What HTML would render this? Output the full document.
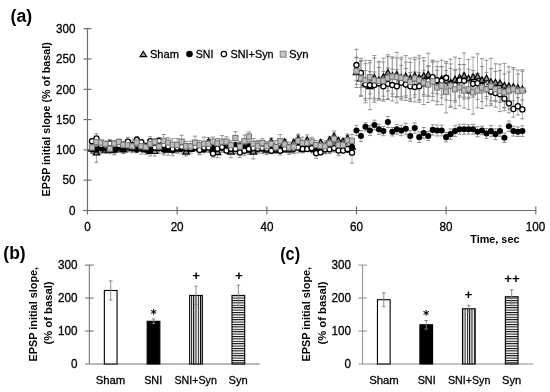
<!DOCTYPE html><html><head><meta charset="utf-8"><title>EPSP figure</title><style>html,body{margin:0;padding:0;background:#fff;}svg{display:block;}</style></head><body><svg width="550" height="392" viewBox="0 0 550 392" font-family="Liberation Sans, Arial, sans-serif">
<rect width="550" height="392" fill="#fff"/>
<defs><pattern id="pv" patternUnits="userSpaceOnUse" width="2.3" height="4"><rect width="2.3" height="4" fill="#fff"/><rect width="1" height="4" fill="#000"/></pattern><pattern id="ph" patternUnits="userSpaceOnUse" width="4" height="2.4"><rect width="4" height="2.4" fill="#fff"/><rect width="4" height="1" fill="#000"/></pattern></defs>
<g stroke="#6c6c6c" stroke-width="1.15" fill="none">
<path d="M87.5 28.7V214.4M83.3 210.5H535.8"/>
<path d="M83.5 210.50H91.5"/>
<path d="M83.5 180.20H91.5"/>
<path d="M83.5 149.90H91.5"/>
<path d="M83.5 119.60H91.5"/>
<path d="M83.5 89.30H91.5"/>
<path d="M83.5 59.00H91.5"/>
<path d="M83.5 28.70H91.5"/>
<path d="M177.16 206.6V214.2"/>
<path d="M266.82 206.6V214.2"/>
<path d="M356.48 206.6V214.2"/>
<path d="M446.14 206.6V214.2"/>
<path d="M535.80 206.6V214.2"/>
</g>
<g stroke="#9a9a9a" stroke-width="0.8" fill="none">
<path d="M91.98 144.93V152.52"/>
<path d="M96.47 142.81V162.20"/>
<path d="M100.95 142.73V153.18"/>
<path d="M105.43 145.85V153.52"/>
<path d="M109.91 145.80V153.73"/>
<path d="M114.40 145.44V153.85"/>
<path d="M118.88 145.37V151.34"/>
<path d="M123.36 145.47V153.42"/>
<path d="M127.85 143.29V151.95"/>
<path d="M132.33 142.97V152.63"/>
<path d="M136.81 143.64V149.06"/>
<path d="M141.30 143.44V150.12"/>
<path d="M145.78 146.68V152.07"/>
<path d="M150.26 146.26V155.96"/>
<path d="M154.75 146.26V155.96"/>
<path d="M159.23 145.03V150.13"/>
<path d="M163.71 142.51V153.31"/>
<path d="M168.19 144.34V155.03"/>
<path d="M172.68 143.02V151.83"/>
<path d="M177.16 144.47V153.05"/>
<path d="M181.64 145.35V151.15"/>
<path d="M186.13 147.48V155.96"/>
<path d="M190.61 144.99V153.04"/>
<path d="M195.09 145.39V150.59"/>
<path d="M199.57 144.25V150.25"/>
<path d="M204.06 143.18V149.49"/>
<path d="M208.54 139.51V144.54"/>
<path d="M213.02 145.52V153.18"/>
<path d="M217.51 146.87V157.78"/>
<path d="M221.99 142.14V152.10"/>
<path d="M226.47 142.72V150.71"/>
<path d="M230.96 145.66V157.78"/>
<path d="M235.44 143.85V151.73"/>
<path d="M239.92 142.41V151.28"/>
<path d="M244.41 144.37V151.99"/>
<path d="M248.89 146.41V152.95"/>
<path d="M253.37 144.45V158.99"/>
<path d="M257.85 141.47V152.35"/>
<path d="M262.34 143.53V153.47"/>
<path d="M266.82 145.25V154.39"/>
<path d="M271.30 138.64V145.40"/>
<path d="M275.79 146.57V152.81"/>
<path d="M280.27 146.13V152.73"/>
<path d="M284.75 139.39V144.66"/>
<path d="M289.24 144.86V154.35"/>
<path d="M293.72 138.99V146.27"/>
<path d="M298.20 134.00V143.98"/>
<path d="M302.68 145.29V152.48"/>
<path d="M307.17 134.88V145.53"/>
<path d="M311.65 141.43V151.41"/>
<path d="M316.13 146.83V151.68"/>
<path d="M320.62 139.57V145.69"/>
<path d="M325.10 142.58V152.94"/>
<path d="M329.58 136.36V144.05"/>
<path d="M334.06 131.17V141.96"/>
<path d="M338.55 137.18V144.44"/>
<path d="M343.03 138.77V144.06"/>
<path d="M347.51 134.05V142.72"/>
<path d="M352.00 141.85V151.41"/>
<path d="M356.48 57.18V87.48"/>
<path d="M360.96 60.34V96.44"/>
<path d="M365.45 63.67V102.81"/>
<path d="M369.93 62.80V109.74"/>
<path d="M374.41 55.59V99.99"/>
<path d="M378.89 61.97V98.45"/>
<path d="M383.38 58.14V96.22"/>
<path d="M387.86 54.80V91.08"/>
<path d="M392.34 58.08V93.85"/>
<path d="M396.83 52.32V97.20"/>
<path d="M401.31 59.17V96.40"/>
<path d="M405.79 55.60V97.54"/>
<path d="M410.28 58.11V98.67"/>
<path d="M414.76 57.28V94.66"/>
<path d="M419.24 55.75V99.82"/>
<path d="M423.72 57.65V94.29"/>
<path d="M428.21 53.26V96.25"/>
<path d="M432.69 60.16V96.63"/>
<path d="M437.17 61.31V101.54"/>
<path d="M441.66 60.17V97.83"/>
<path d="M446.14 61.63V100.00"/>
<path d="M450.62 59.12V106.15"/>
<path d="M455.11 57.12V102.08"/>
<path d="M459.59 58.39V97.18"/>
<path d="M464.07 52.99V98.95"/>
<path d="M468.55 59.58V97.21"/>
<path d="M473.04 57.23V97.13"/>
<path d="M477.52 53.78V99.37"/>
<path d="M482.00 58.73V101.69"/>
<path d="M486.49 60.26V96.53"/>
<path d="M490.97 58.40V105.66"/>
<path d="M495.45 63.80V101.47"/>
<path d="M499.94 64.13V102.35"/>
<path d="M504.42 63.37V107.95"/>
<path d="M508.90 66.72V105.82"/>
<path d="M513.38 67.53V106.22"/>
<path d="M517.87 70.12V106.06"/>
<path d="M522.35 71.23V107.37"/>
<path d="M91.98 145.16V153.54"/>
<path d="M96.47 146.48V152.80"/>
<path d="M100.95 144.32V152.82"/>
<path d="M105.43 144.50V151.61"/>
<path d="M109.91 144.53V152.12"/>
<path d="M114.40 144.24V154.90"/>
<path d="M118.88 143.00V150.78"/>
<path d="M123.36 144.92V153.25"/>
<path d="M127.85 141.40V151.50"/>
<path d="M132.33 145.48V151.44"/>
<path d="M136.81 146.84V152.62"/>
<path d="M141.30 143.67V154.02"/>
<path d="M145.78 144.57V154.37"/>
<path d="M150.26 147.33V153.69"/>
<path d="M154.75 144.79V150.78"/>
<path d="M159.23 143.88V153.21"/>
<path d="M163.71 144.40V154.95"/>
<path d="M168.19 146.13V152.17"/>
<path d="M172.68 145.20V155.81"/>
<path d="M177.16 142.67V152.87"/>
<path d="M181.64 144.56V153.06"/>
<path d="M186.13 143.66V151.06"/>
<path d="M190.61 145.07V150.55"/>
<path d="M195.09 144.18V149.26"/>
<path d="M199.57 143.51V154.19"/>
<path d="M204.06 146.32V152.62"/>
<path d="M208.54 142.59V151.71"/>
<path d="M213.02 144.92V151.32"/>
<path d="M217.51 142.55V152.39"/>
<path d="M221.99 143.59V152.05"/>
<path d="M226.47 145.45V152.07"/>
<path d="M230.96 144.78V150.69"/>
<path d="M235.44 140.45V149.66"/>
<path d="M239.92 143.83V149.10"/>
<path d="M244.41 144.37V150.60"/>
<path d="M248.89 142.15V150.38"/>
<path d="M253.37 141.28V151.30"/>
<path d="M257.85 144.58V153.15"/>
<path d="M262.34 144.20V150.74"/>
<path d="M266.82 143.02V153.42"/>
<path d="M271.30 146.43V152.52"/>
<path d="M275.79 144.63V149.58"/>
<path d="M280.27 145.76V152.24"/>
<path d="M284.75 142.96V150.51"/>
<path d="M289.24 145.66V150.87"/>
<path d="M293.72 143.73V149.65"/>
<path d="M298.20 143.22V150.30"/>
<path d="M302.68 144.23V152.55"/>
<path d="M307.17 143.86V149.51"/>
<path d="M311.65 145.83V152.87"/>
<path d="M316.13 143.93V154.18"/>
<path d="M320.62 142.74V153.53"/>
<path d="M325.10 144.53V153.36"/>
<path d="M329.58 143.86V152.90"/>
<path d="M334.06 143.65V152.04"/>
<path d="M338.55 144.54V150.24"/>
<path d="M343.03 145.12V150.18"/>
<path d="M347.51 147.23V152.18"/>
<path d="M352.00 141.69V152.05"/>
<path d="M356.48 125.37V135.65"/>
<path d="M360.96 130.44V141.48"/>
<path d="M365.45 122.72V131.02"/>
<path d="M369.93 125.46V135.55"/>
<path d="M374.41 120.23V129.88"/>
<path d="M378.89 124.11V134.48"/>
<path d="M383.38 126.53V135.70"/>
<path d="M387.86 116.45V127.60"/>
<path d="M392.34 127.49V135.95"/>
<path d="M396.83 124.38V134.21"/>
<path d="M401.31 125.32V135.70"/>
<path d="M405.79 123.26V134.12"/>
<path d="M410.28 130.77V141.15"/>
<path d="M414.76 122.94V133.23"/>
<path d="M419.24 131.90V142.45"/>
<path d="M423.72 127.48V138.38"/>
<path d="M428.21 131.33V140.59"/>
<path d="M432.69 124.78V135.02"/>
<path d="M437.17 125.08V135.94"/>
<path d="M441.66 125.12V135.90"/>
<path d="M446.14 132.45V141.90"/>
<path d="M450.62 128.87V139.41"/>
<path d="M455.11 125.74V136.49"/>
<path d="M459.59 124.34V134.25"/>
<path d="M464.07 124.27V134.33"/>
<path d="M468.55 124.62V133.97"/>
<path d="M473.04 124.33V134.26"/>
<path d="M477.52 126.71V136.73"/>
<path d="M482.00 126.27V134.75"/>
<path d="M486.49 128.49V138.59"/>
<path d="M490.97 125.55V136.68"/>
<path d="M495.45 128.74V139.54"/>
<path d="M499.94 125.93V136.29"/>
<path d="M504.42 133.09V142.47"/>
<path d="M508.90 121.08V131.46"/>
<path d="M513.38 126.15V136.08"/>
<path d="M517.87 126.96V136.48"/>
<path d="M522.35 125.77V136.45"/>
<path d="M91.98 138.50V143.85"/>
<path d="M96.47 133.81V143.20"/>
<path d="M100.95 142.54V147.57"/>
<path d="M105.43 141.41V149.90"/>
<path d="M109.91 139.60V147.36"/>
<path d="M114.40 141.93V148.17"/>
<path d="M118.88 140.51V149.59"/>
<path d="M123.36 141.73V149.59"/>
<path d="M127.85 137.37V145.94"/>
<path d="M132.33 139.84V150.27"/>
<path d="M136.81 136.58V142.98"/>
<path d="M141.30 139.62V144.54"/>
<path d="M145.78 142.93V149.60"/>
<path d="M150.26 136.69V145.65"/>
<path d="M154.75 144.44V150.51"/>
<path d="M159.23 137.87V143.75"/>
<path d="M163.71 139.88V150.22"/>
<path d="M168.19 141.84V150.69"/>
<path d="M172.68 144.92V152.45"/>
<path d="M177.16 142.35V152.60"/>
<path d="M181.64 143.46V150.28"/>
<path d="M186.13 143.64V152.52"/>
<path d="M190.61 145.06V151.11"/>
<path d="M195.09 143.26V150.72"/>
<path d="M199.57 145.03V154.77"/>
<path d="M204.06 142.28V152.67"/>
<path d="M208.54 142.38V152.57"/>
<path d="M213.02 149.95V157.12"/>
<path d="M217.51 144.50V152.88"/>
<path d="M221.99 143.73V150.50"/>
<path d="M226.47 147.67V153.34"/>
<path d="M230.96 144.76V152.62"/>
<path d="M235.44 143.97V153.89"/>
<path d="M239.92 147.51V157.50"/>
<path d="M244.41 146.11V155.27"/>
<path d="M248.89 143.63V154.23"/>
<path d="M253.37 144.82V151.34"/>
<path d="M257.85 145.75V151.62"/>
<path d="M262.34 144.29V151.87"/>
<path d="M266.82 145.43V151.95"/>
<path d="M271.30 147.62V153.76"/>
<path d="M275.79 145.01V152.37"/>
<path d="M280.27 146.37V155.01"/>
<path d="M284.75 144.77V152.61"/>
<path d="M289.24 145.31V152.07"/>
<path d="M293.72 143.72V153.65"/>
<path d="M298.20 142.08V152.88"/>
<path d="M302.68 145.14V152.73"/>
<path d="M307.17 146.28V151.58"/>
<path d="M311.65 145.56V150.60"/>
<path d="M316.13 148.10V158.24"/>
<path d="M320.62 149.77V154.87"/>
<path d="M325.10 144.72V153.87"/>
<path d="M329.58 145.14V153.45"/>
<path d="M334.06 144.72V151.44"/>
<path d="M338.55 145.68V155.33"/>
<path d="M343.03 148.02V152.99"/>
<path d="M347.51 146.16V151.83"/>
<path d="M352.00 142.32V162.93"/>
<path d="M356.48 49.30V80.82"/>
<path d="M360.96 58.39V87.48"/>
<path d="M365.45 70.50V98.41"/>
<path d="M369.93 71.54V98.58"/>
<path d="M374.41 71.97V98.15"/>
<path d="M378.89 67.50V98.98"/>
<path d="M383.38 71.36V101.18"/>
<path d="M387.86 68.11V99.59"/>
<path d="M392.34 69.20V100.91"/>
<path d="M396.83 69.72V102.82"/>
<path d="M401.31 65.40V99.87"/>
<path d="M405.79 68.46V100.44"/>
<path d="M410.28 72.49V100.05"/>
<path d="M414.76 71.84V101.91"/>
<path d="M419.24 72.58V99.96"/>
<path d="M423.72 70.31V96.17"/>
<path d="M428.21 65.79V95.84"/>
<path d="M432.69 61.06V93.30"/>
<path d="M437.17 66.52V93.90"/>
<path d="M441.66 66.70V94.93"/>
<path d="M446.14 63.34V92.23"/>
<path d="M450.62 68.41V100.50"/>
<path d="M455.11 69.82V100.30"/>
<path d="M459.59 64.54V95.88"/>
<path d="M464.07 64.50V97.13"/>
<path d="M468.55 82.30V98.72"/>
<path d="M473.04 74.62V93.07"/>
<path d="M477.52 73.72V92.76"/>
<path d="M482.00 78.23V93.10"/>
<path d="M486.49 79.71V98.89"/>
<path d="M490.97 82.67V100.77"/>
<path d="M495.45 85.58V100.66"/>
<path d="M499.94 85.78V102.51"/>
<path d="M504.42 89.83V107.44"/>
<path d="M508.90 93.83V112.89"/>
<path d="M513.38 100.82V117.17"/>
<path d="M517.87 97.61V114.93"/>
<path d="M522.35 99.97V118.87"/>
<path d="M91.98 144.90V150.05"/>
<path d="M96.47 138.98V145.06"/>
<path d="M100.95 139.90V145.36"/>
<path d="M105.43 141.18V146.50"/>
<path d="M109.91 145.62V151.75"/>
<path d="M114.40 140.52V146.43"/>
<path d="M118.88 139.14V144.90"/>
<path d="M123.36 141.88V147.73"/>
<path d="M127.85 142.23V148.36"/>
<path d="M132.33 143.65V148.88"/>
<path d="M136.81 139.96V145.30"/>
<path d="M141.30 143.07V149.45"/>
<path d="M145.78 143.91V150.31"/>
<path d="M150.26 140.77V146.91"/>
<path d="M154.75 138.57V145.48"/>
<path d="M159.23 143.40V149.73"/>
<path d="M163.71 134.49V147.13"/>
<path d="M168.19 137.82V147.43"/>
<path d="M172.68 138.77V150.85"/>
<path d="M177.16 138.60V151.02"/>
<path d="M181.64 135.23V148.09"/>
<path d="M186.13 141.26V151.27"/>
<path d="M190.61 141.26V151.27"/>
<path d="M195.09 136.15V149.11"/>
<path d="M199.57 140.52V150.07"/>
<path d="M204.06 137.18V150.50"/>
<path d="M208.54 137.45V150.23"/>
<path d="M213.02 137.09V146.23"/>
<path d="M217.51 138.59V148.24"/>
<path d="M221.99 135.66V147.66"/>
<path d="M226.47 136.79V146.53"/>
<path d="M230.96 140.82V149.77"/>
<path d="M235.44 131.76V144.28"/>
<path d="M239.92 141.36V151.89"/>
<path d="M244.41 135.02V147.33"/>
<path d="M248.89 132.02V141.12"/>
<path d="M253.37 138.62V149.06"/>
<path d="M257.85 140.36V152.17"/>
<path d="M262.34 138.71V147.28"/>
<path d="M266.82 141.53V150.99"/>
<path d="M271.30 137.94V149.74"/>
<path d="M275.79 140.66V153.56"/>
<path d="M280.27 134.58V147.76"/>
<path d="M284.75 139.92V148.97"/>
<path d="M289.24 142.01V152.94"/>
<path d="M293.72 140.55V152.71"/>
<path d="M298.20 135.35V146.27"/>
<path d="M302.68 137.09V148.90"/>
<path d="M307.17 138.29V147.69"/>
<path d="M311.65 137.25V146.07"/>
<path d="M316.13 140.55V149.55"/>
<path d="M320.62 141.57V150.23"/>
<path d="M325.10 140.81V151.96"/>
<path d="M329.58 137.93V148.91"/>
<path d="M334.06 133.19V144.43"/>
<path d="M338.55 140.45V149.65"/>
<path d="M343.03 140.36V149.74"/>
<path d="M347.51 135.59V145.06"/>
<path d="M352.00 134.53V147.09"/>
<path d="M356.48 57.79V84.45"/>
<path d="M360.96 61.42V95.36"/>
<path d="M365.45 60.21V100.21"/>
<path d="M369.93 60.54V93.82"/>
<path d="M374.41 58.09V102.33"/>
<path d="M378.89 61.33V100.30"/>
<path d="M383.38 62.00V99.63"/>
<path d="M387.86 56.64V98.93"/>
<path d="M392.34 56.82V96.33"/>
<path d="M396.83 57.84V96.52"/>
<path d="M401.31 57.28V98.29"/>
<path d="M405.79 62.13V95.86"/>
<path d="M410.28 62.41V101.65"/>
<path d="M414.76 59.50V97.28"/>
<path d="M419.24 58.16V102.26"/>
<path d="M423.72 60.78V104.49"/>
<path d="M428.21 66.40V102.50"/>
<path d="M432.69 62.19V100.66"/>
<path d="M437.17 70.26V104.70"/>
<path d="M441.66 66.66V104.67"/>
<path d="M446.14 70.50V112.95"/>
<path d="M450.62 63.94V107.39"/>
<path d="M455.11 70.04V108.56"/>
<path d="M459.59 69.15V105.81"/>
<path d="M464.07 72.92V108.11"/>
<path d="M468.55 69.22V109.38"/>
<path d="M473.04 70.46V114.20"/>
<path d="M477.52 73.28V107.75"/>
<path d="M482.00 66.47V108.50"/>
<path d="M486.49 72.68V105.92"/>
<path d="M490.97 68.66V103.88"/>
<path d="M495.45 71.49V107.11"/>
<path d="M499.94 70.64V111.60"/>
<path d="M504.42 73.97V110.69"/>
<path d="M508.90 71.96V109.06"/>
<path d="M513.38 69.21V109.39"/>
<path d="M517.87 74.02V108.21"/>
<path d="M522.35 69.78V111.25"/>
</g>
<g stroke="#808080" stroke-width="0.9" fill="none">
<path d="M89.98 144.93H93.98M89.98 152.52H93.98"/>
<path d="M94.47 142.81H98.47M94.47 162.20H98.47"/>
<path d="M98.95 142.73H102.95M98.95 153.18H102.95"/>
<path d="M103.43 145.85H107.43M103.43 153.52H107.43"/>
<path d="M107.91 145.80H111.91M107.91 153.73H111.91"/>
<path d="M112.40 145.44H116.40M112.40 153.85H116.40"/>
<path d="M116.88 145.37H120.88M116.88 151.34H120.88"/>
<path d="M121.36 145.47H125.36M121.36 153.42H125.36"/>
<path d="M125.85 143.29H129.85M125.85 151.95H129.85"/>
<path d="M130.33 142.97H134.33M130.33 152.63H134.33"/>
<path d="M134.81 143.64H138.81M134.81 149.06H138.81"/>
<path d="M139.30 143.44H143.30M139.30 150.12H143.30"/>
<path d="M143.78 146.68H147.78M143.78 152.07H147.78"/>
<path d="M148.26 146.26H152.26M148.26 155.96H152.26"/>
<path d="M152.75 146.26H156.75M152.75 155.96H156.75"/>
<path d="M157.23 145.03H161.23M157.23 150.13H161.23"/>
<path d="M161.71 142.51H165.71M161.71 153.31H165.71"/>
<path d="M166.19 144.34H170.19M166.19 155.03H170.19"/>
<path d="M170.68 143.02H174.68M170.68 151.83H174.68"/>
<path d="M175.16 144.47H179.16M175.16 153.05H179.16"/>
<path d="M179.64 145.35H183.64M179.64 151.15H183.64"/>
<path d="M184.13 147.48H188.13M184.13 155.96H188.13"/>
<path d="M188.61 144.99H192.61M188.61 153.04H192.61"/>
<path d="M193.09 145.39H197.09M193.09 150.59H197.09"/>
<path d="M197.57 144.25H201.57M197.57 150.25H201.57"/>
<path d="M202.06 143.18H206.06M202.06 149.49H206.06"/>
<path d="M206.54 139.51H210.54M206.54 144.54H210.54"/>
<path d="M211.02 145.52H215.02M211.02 153.18H215.02"/>
<path d="M215.51 146.87H219.51M215.51 157.78H219.51"/>
<path d="M219.99 142.14H223.99M219.99 152.10H223.99"/>
<path d="M224.47 142.72H228.47M224.47 150.71H228.47"/>
<path d="M228.96 145.66H232.96M228.96 157.78H232.96"/>
<path d="M233.44 143.85H237.44M233.44 151.73H237.44"/>
<path d="M237.92 142.41H241.92M237.92 151.28H241.92"/>
<path d="M242.41 144.37H246.41M242.41 151.99H246.41"/>
<path d="M246.89 146.41H250.89M246.89 152.95H250.89"/>
<path d="M251.37 144.45H255.37M251.37 158.99H255.37"/>
<path d="M255.85 141.47H259.85M255.85 152.35H259.85"/>
<path d="M260.34 143.53H264.34M260.34 153.47H264.34"/>
<path d="M264.82 145.25H268.82M264.82 154.39H268.82"/>
<path d="M269.30 138.64H273.30M269.30 145.40H273.30"/>
<path d="M273.79 146.57H277.79M273.79 152.81H277.79"/>
<path d="M278.27 146.13H282.27M278.27 152.73H282.27"/>
<path d="M282.75 139.39H286.75M282.75 144.66H286.75"/>
<path d="M287.24 144.86H291.24M287.24 154.35H291.24"/>
<path d="M291.72 138.99H295.72M291.72 146.27H295.72"/>
<path d="M296.20 134.00H300.20M296.20 143.98H300.20"/>
<path d="M300.68 145.29H304.68M300.68 152.48H304.68"/>
<path d="M305.17 134.88H309.17M305.17 145.53H309.17"/>
<path d="M309.65 141.43H313.65M309.65 151.41H313.65"/>
<path d="M314.13 146.83H318.13M314.13 151.68H318.13"/>
<path d="M318.62 139.57H322.62M318.62 145.69H322.62"/>
<path d="M323.10 142.58H327.10M323.10 152.94H327.10"/>
<path d="M327.58 136.36H331.58M327.58 144.05H331.58"/>
<path d="M332.06 131.17H336.06M332.06 141.96H336.06"/>
<path d="M336.55 137.18H340.55M336.55 144.44H340.55"/>
<path d="M341.03 138.77H345.03M341.03 144.06H345.03"/>
<path d="M345.51 134.05H349.51M345.51 142.72H349.51"/>
<path d="M350.00 141.85H354.00M350.00 151.41H354.00"/>
<path d="M354.48 57.18H358.48M354.48 87.48H358.48"/>
<path d="M358.96 60.34H362.96M358.96 96.44H362.96"/>
<path d="M363.45 63.67H367.45M363.45 102.81H367.45"/>
<path d="M367.93 62.80H371.93M367.93 109.74H371.93"/>
<path d="M372.41 55.59H376.41M372.41 99.99H376.41"/>
<path d="M376.89 61.97H380.89M376.89 98.45H380.89"/>
<path d="M381.38 58.14H385.38M381.38 96.22H385.38"/>
<path d="M385.86 54.80H389.86M385.86 91.08H389.86"/>
<path d="M390.34 58.08H394.34M390.34 93.85H394.34"/>
<path d="M394.83 52.32H398.83M394.83 97.20H398.83"/>
<path d="M399.31 59.17H403.31M399.31 96.40H403.31"/>
<path d="M403.79 55.60H407.79M403.79 97.54H407.79"/>
<path d="M408.28 58.11H412.28M408.28 98.67H412.28"/>
<path d="M412.76 57.28H416.76M412.76 94.66H416.76"/>
<path d="M417.24 55.75H421.24M417.24 99.82H421.24"/>
<path d="M421.72 57.65H425.72M421.72 94.29H425.72"/>
<path d="M426.21 53.26H430.21M426.21 96.25H430.21"/>
<path d="M430.69 60.16H434.69M430.69 96.63H434.69"/>
<path d="M435.17 61.31H439.17M435.17 101.54H439.17"/>
<path d="M439.66 60.17H443.66M439.66 97.83H443.66"/>
<path d="M444.14 61.63H448.14M444.14 100.00H448.14"/>
<path d="M448.62 59.12H452.62M448.62 106.15H452.62"/>
<path d="M453.11 57.12H457.11M453.11 102.08H457.11"/>
<path d="M457.59 58.39H461.59M457.59 97.18H461.59"/>
<path d="M462.07 52.99H466.07M462.07 98.95H466.07"/>
<path d="M466.55 59.58H470.55M466.55 97.21H470.55"/>
<path d="M471.04 57.23H475.04M471.04 97.13H475.04"/>
<path d="M475.52 53.78H479.52M475.52 99.37H479.52"/>
<path d="M480.00 58.73H484.00M480.00 101.69H484.00"/>
<path d="M484.49 60.26H488.49M484.49 96.53H488.49"/>
<path d="M488.97 58.40H492.97M488.97 105.66H492.97"/>
<path d="M493.45 63.80H497.45M493.45 101.47H497.45"/>
<path d="M497.94 64.13H501.94M497.94 102.35H501.94"/>
<path d="M502.42 63.37H506.42M502.42 107.95H506.42"/>
<path d="M506.90 66.72H510.90M506.90 105.82H510.90"/>
<path d="M511.38 67.53H515.38M511.38 106.22H515.38"/>
<path d="M515.87 70.12H519.87M515.87 106.06H519.87"/>
<path d="M520.35 71.23H524.35M520.35 107.37H524.35"/>
<path d="M89.98 145.16H93.98M89.98 153.54H93.98"/>
<path d="M94.47 146.48H98.47M94.47 152.80H98.47"/>
<path d="M98.95 144.32H102.95M98.95 152.82H102.95"/>
<path d="M103.43 144.50H107.43M103.43 151.61H107.43"/>
<path d="M107.91 144.53H111.91M107.91 152.12H111.91"/>
<path d="M112.40 144.24H116.40M112.40 154.90H116.40"/>
<path d="M116.88 143.00H120.88M116.88 150.78H120.88"/>
<path d="M121.36 144.92H125.36M121.36 153.25H125.36"/>
<path d="M125.85 141.40H129.85M125.85 151.50H129.85"/>
<path d="M130.33 145.48H134.33M130.33 151.44H134.33"/>
<path d="M134.81 146.84H138.81M134.81 152.62H138.81"/>
<path d="M139.30 143.67H143.30M139.30 154.02H143.30"/>
<path d="M143.78 144.57H147.78M143.78 154.37H147.78"/>
<path d="M148.26 147.33H152.26M148.26 153.69H152.26"/>
<path d="M152.75 144.79H156.75M152.75 150.78H156.75"/>
<path d="M157.23 143.88H161.23M157.23 153.21H161.23"/>
<path d="M161.71 144.40H165.71M161.71 154.95H165.71"/>
<path d="M166.19 146.13H170.19M166.19 152.17H170.19"/>
<path d="M170.68 145.20H174.68M170.68 155.81H174.68"/>
<path d="M175.16 142.67H179.16M175.16 152.87H179.16"/>
<path d="M179.64 144.56H183.64M179.64 153.06H183.64"/>
<path d="M184.13 143.66H188.13M184.13 151.06H188.13"/>
<path d="M188.61 145.07H192.61M188.61 150.55H192.61"/>
<path d="M193.09 144.18H197.09M193.09 149.26H197.09"/>
<path d="M197.57 143.51H201.57M197.57 154.19H201.57"/>
<path d="M202.06 146.32H206.06M202.06 152.62H206.06"/>
<path d="M206.54 142.59H210.54M206.54 151.71H210.54"/>
<path d="M211.02 144.92H215.02M211.02 151.32H215.02"/>
<path d="M215.51 142.55H219.51M215.51 152.39H219.51"/>
<path d="M219.99 143.59H223.99M219.99 152.05H223.99"/>
<path d="M224.47 145.45H228.47M224.47 152.07H228.47"/>
<path d="M228.96 144.78H232.96M228.96 150.69H232.96"/>
<path d="M233.44 140.45H237.44M233.44 149.66H237.44"/>
<path d="M237.92 143.83H241.92M237.92 149.10H241.92"/>
<path d="M242.41 144.37H246.41M242.41 150.60H246.41"/>
<path d="M246.89 142.15H250.89M246.89 150.38H250.89"/>
<path d="M251.37 141.28H255.37M251.37 151.30H255.37"/>
<path d="M255.85 144.58H259.85M255.85 153.15H259.85"/>
<path d="M260.34 144.20H264.34M260.34 150.74H264.34"/>
<path d="M264.82 143.02H268.82M264.82 153.42H268.82"/>
<path d="M269.30 146.43H273.30M269.30 152.52H273.30"/>
<path d="M273.79 144.63H277.79M273.79 149.58H277.79"/>
<path d="M278.27 145.76H282.27M278.27 152.24H282.27"/>
<path d="M282.75 142.96H286.75M282.75 150.51H286.75"/>
<path d="M287.24 145.66H291.24M287.24 150.87H291.24"/>
<path d="M291.72 143.73H295.72M291.72 149.65H295.72"/>
<path d="M296.20 143.22H300.20M296.20 150.30H300.20"/>
<path d="M300.68 144.23H304.68M300.68 152.55H304.68"/>
<path d="M305.17 143.86H309.17M305.17 149.51H309.17"/>
<path d="M309.65 145.83H313.65M309.65 152.87H313.65"/>
<path d="M314.13 143.93H318.13M314.13 154.18H318.13"/>
<path d="M318.62 142.74H322.62M318.62 153.53H322.62"/>
<path d="M323.10 144.53H327.10M323.10 153.36H327.10"/>
<path d="M327.58 143.86H331.58M327.58 152.90H331.58"/>
<path d="M332.06 143.65H336.06M332.06 152.04H336.06"/>
<path d="M336.55 144.54H340.55M336.55 150.24H340.55"/>
<path d="M341.03 145.12H345.03M341.03 150.18H345.03"/>
<path d="M345.51 147.23H349.51M345.51 152.18H349.51"/>
<path d="M350.00 141.69H354.00M350.00 152.05H354.00"/>
<path d="M354.48 125.37H358.48M354.48 135.65H358.48"/>
<path d="M358.96 130.44H362.96M358.96 141.48H362.96"/>
<path d="M363.45 122.72H367.45M363.45 131.02H367.45"/>
<path d="M367.93 125.46H371.93M367.93 135.55H371.93"/>
<path d="M372.41 120.23H376.41M372.41 129.88H376.41"/>
<path d="M376.89 124.11H380.89M376.89 134.48H380.89"/>
<path d="M381.38 126.53H385.38M381.38 135.70H385.38"/>
<path d="M385.86 116.45H389.86M385.86 127.60H389.86"/>
<path d="M390.34 127.49H394.34M390.34 135.95H394.34"/>
<path d="M394.83 124.38H398.83M394.83 134.21H398.83"/>
<path d="M399.31 125.32H403.31M399.31 135.70H403.31"/>
<path d="M403.79 123.26H407.79M403.79 134.12H407.79"/>
<path d="M408.28 130.77H412.28M408.28 141.15H412.28"/>
<path d="M412.76 122.94H416.76M412.76 133.23H416.76"/>
<path d="M417.24 131.90H421.24M417.24 142.45H421.24"/>
<path d="M421.72 127.48H425.72M421.72 138.38H425.72"/>
<path d="M426.21 131.33H430.21M426.21 140.59H430.21"/>
<path d="M430.69 124.78H434.69M430.69 135.02H434.69"/>
<path d="M435.17 125.08H439.17M435.17 135.94H439.17"/>
<path d="M439.66 125.12H443.66M439.66 135.90H443.66"/>
<path d="M444.14 132.45H448.14M444.14 141.90H448.14"/>
<path d="M448.62 128.87H452.62M448.62 139.41H452.62"/>
<path d="M453.11 125.74H457.11M453.11 136.49H457.11"/>
<path d="M457.59 124.34H461.59M457.59 134.25H461.59"/>
<path d="M462.07 124.27H466.07M462.07 134.33H466.07"/>
<path d="M466.55 124.62H470.55M466.55 133.97H470.55"/>
<path d="M471.04 124.33H475.04M471.04 134.26H475.04"/>
<path d="M475.52 126.71H479.52M475.52 136.73H479.52"/>
<path d="M480.00 126.27H484.00M480.00 134.75H484.00"/>
<path d="M484.49 128.49H488.49M484.49 138.59H488.49"/>
<path d="M488.97 125.55H492.97M488.97 136.68H492.97"/>
<path d="M493.45 128.74H497.45M493.45 139.54H497.45"/>
<path d="M497.94 125.93H501.94M497.94 136.29H501.94"/>
<path d="M502.42 133.09H506.42M502.42 142.47H506.42"/>
<path d="M506.90 121.08H510.90M506.90 131.46H510.90"/>
<path d="M511.38 126.15H515.38M511.38 136.08H515.38"/>
<path d="M515.87 126.96H519.87M515.87 136.48H519.87"/>
<path d="M520.35 125.77H524.35M520.35 136.45H524.35"/>
<path d="M89.98 138.50H93.98M89.98 143.85H93.98"/>
<path d="M94.47 133.81H98.47M94.47 143.20H98.47"/>
<path d="M98.95 142.54H102.95M98.95 147.57H102.95"/>
<path d="M103.43 141.41H107.43M103.43 149.90H107.43"/>
<path d="M107.91 139.60H111.91M107.91 147.36H111.91"/>
<path d="M112.40 141.93H116.40M112.40 148.17H116.40"/>
<path d="M116.88 140.51H120.88M116.88 149.59H120.88"/>
<path d="M121.36 141.73H125.36M121.36 149.59H125.36"/>
<path d="M125.85 137.37H129.85M125.85 145.94H129.85"/>
<path d="M130.33 139.84H134.33M130.33 150.27H134.33"/>
<path d="M134.81 136.58H138.81M134.81 142.98H138.81"/>
<path d="M139.30 139.62H143.30M139.30 144.54H143.30"/>
<path d="M143.78 142.93H147.78M143.78 149.60H147.78"/>
<path d="M148.26 136.69H152.26M148.26 145.65H152.26"/>
<path d="M152.75 144.44H156.75M152.75 150.51H156.75"/>
<path d="M157.23 137.87H161.23M157.23 143.75H161.23"/>
<path d="M161.71 139.88H165.71M161.71 150.22H165.71"/>
<path d="M166.19 141.84H170.19M166.19 150.69H170.19"/>
<path d="M170.68 144.92H174.68M170.68 152.45H174.68"/>
<path d="M175.16 142.35H179.16M175.16 152.60H179.16"/>
<path d="M179.64 143.46H183.64M179.64 150.28H183.64"/>
<path d="M184.13 143.64H188.13M184.13 152.52H188.13"/>
<path d="M188.61 145.06H192.61M188.61 151.11H192.61"/>
<path d="M193.09 143.26H197.09M193.09 150.72H197.09"/>
<path d="M197.57 145.03H201.57M197.57 154.77H201.57"/>
<path d="M202.06 142.28H206.06M202.06 152.67H206.06"/>
<path d="M206.54 142.38H210.54M206.54 152.57H210.54"/>
<path d="M211.02 149.95H215.02M211.02 157.12H215.02"/>
<path d="M215.51 144.50H219.51M215.51 152.88H219.51"/>
<path d="M219.99 143.73H223.99M219.99 150.50H223.99"/>
<path d="M224.47 147.67H228.47M224.47 153.34H228.47"/>
<path d="M228.96 144.76H232.96M228.96 152.62H232.96"/>
<path d="M233.44 143.97H237.44M233.44 153.89H237.44"/>
<path d="M237.92 147.51H241.92M237.92 157.50H241.92"/>
<path d="M242.41 146.11H246.41M242.41 155.27H246.41"/>
<path d="M246.89 143.63H250.89M246.89 154.23H250.89"/>
<path d="M251.37 144.82H255.37M251.37 151.34H255.37"/>
<path d="M255.85 145.75H259.85M255.85 151.62H259.85"/>
<path d="M260.34 144.29H264.34M260.34 151.87H264.34"/>
<path d="M264.82 145.43H268.82M264.82 151.95H268.82"/>
<path d="M269.30 147.62H273.30M269.30 153.76H273.30"/>
<path d="M273.79 145.01H277.79M273.79 152.37H277.79"/>
<path d="M278.27 146.37H282.27M278.27 155.01H282.27"/>
<path d="M282.75 144.77H286.75M282.75 152.61H286.75"/>
<path d="M287.24 145.31H291.24M287.24 152.07H291.24"/>
<path d="M291.72 143.72H295.72M291.72 153.65H295.72"/>
<path d="M296.20 142.08H300.20M296.20 152.88H300.20"/>
<path d="M300.68 145.14H304.68M300.68 152.73H304.68"/>
<path d="M305.17 146.28H309.17M305.17 151.58H309.17"/>
<path d="M309.65 145.56H313.65M309.65 150.60H313.65"/>
<path d="M314.13 148.10H318.13M314.13 158.24H318.13"/>
<path d="M318.62 149.77H322.62M318.62 154.87H322.62"/>
<path d="M323.10 144.72H327.10M323.10 153.87H327.10"/>
<path d="M327.58 145.14H331.58M327.58 153.45H331.58"/>
<path d="M332.06 144.72H336.06M332.06 151.44H336.06"/>
<path d="M336.55 145.68H340.55M336.55 155.33H340.55"/>
<path d="M341.03 148.02H345.03M341.03 152.99H345.03"/>
<path d="M345.51 146.16H349.51M345.51 151.83H349.51"/>
<path d="M350.00 142.32H354.00M350.00 162.93H354.00"/>
<path d="M354.48 49.30H358.48M354.48 80.82H358.48"/>
<path d="M358.96 58.39H362.96M358.96 87.48H362.96"/>
<path d="M363.45 70.50H367.45M363.45 98.41H367.45"/>
<path d="M367.93 71.54H371.93M367.93 98.58H371.93"/>
<path d="M372.41 71.97H376.41M372.41 98.15H376.41"/>
<path d="M376.89 67.50H380.89M376.89 98.98H380.89"/>
<path d="M381.38 71.36H385.38M381.38 101.18H385.38"/>
<path d="M385.86 68.11H389.86M385.86 99.59H389.86"/>
<path d="M390.34 69.20H394.34M390.34 100.91H394.34"/>
<path d="M394.83 69.72H398.83M394.83 102.82H398.83"/>
<path d="M399.31 65.40H403.31M399.31 99.87H403.31"/>
<path d="M403.79 68.46H407.79M403.79 100.44H407.79"/>
<path d="M408.28 72.49H412.28M408.28 100.05H412.28"/>
<path d="M412.76 71.84H416.76M412.76 101.91H416.76"/>
<path d="M417.24 72.58H421.24M417.24 99.96H421.24"/>
<path d="M421.72 70.31H425.72M421.72 96.17H425.72"/>
<path d="M426.21 65.79H430.21M426.21 95.84H430.21"/>
<path d="M430.69 61.06H434.69M430.69 93.30H434.69"/>
<path d="M435.17 66.52H439.17M435.17 93.90H439.17"/>
<path d="M439.66 66.70H443.66M439.66 94.93H443.66"/>
<path d="M444.14 63.34H448.14M444.14 92.23H448.14"/>
<path d="M448.62 68.41H452.62M448.62 100.50H452.62"/>
<path d="M453.11 69.82H457.11M453.11 100.30H457.11"/>
<path d="M457.59 64.54H461.59M457.59 95.88H461.59"/>
<path d="M462.07 64.50H466.07M462.07 97.13H466.07"/>
<path d="M466.55 82.30H470.55M466.55 98.72H470.55"/>
<path d="M471.04 74.62H475.04M471.04 93.07H475.04"/>
<path d="M475.52 73.72H479.52M475.52 92.76H479.52"/>
<path d="M480.00 78.23H484.00M480.00 93.10H484.00"/>
<path d="M484.49 79.71H488.49M484.49 98.89H488.49"/>
<path d="M488.97 82.67H492.97M488.97 100.77H492.97"/>
<path d="M493.45 85.58H497.45M493.45 100.66H497.45"/>
<path d="M497.94 85.78H501.94M497.94 102.51H501.94"/>
<path d="M502.42 89.83H506.42M502.42 107.44H506.42"/>
<path d="M506.90 93.83H510.90M506.90 112.89H510.90"/>
<path d="M511.38 100.82H515.38M511.38 117.17H515.38"/>
<path d="M515.87 97.61H519.87M515.87 114.93H519.87"/>
<path d="M520.35 99.97H524.35M520.35 118.87H524.35"/>
<path d="M89.98 144.90H93.98M89.98 150.05H93.98"/>
<path d="M94.47 138.98H98.47M94.47 145.06H98.47"/>
<path d="M98.95 139.90H102.95M98.95 145.36H102.95"/>
<path d="M103.43 141.18H107.43M103.43 146.50H107.43"/>
<path d="M107.91 145.62H111.91M107.91 151.75H111.91"/>
<path d="M112.40 140.52H116.40M112.40 146.43H116.40"/>
<path d="M116.88 139.14H120.88M116.88 144.90H120.88"/>
<path d="M121.36 141.88H125.36M121.36 147.73H125.36"/>
<path d="M125.85 142.23H129.85M125.85 148.36H129.85"/>
<path d="M130.33 143.65H134.33M130.33 148.88H134.33"/>
<path d="M134.81 139.96H138.81M134.81 145.30H138.81"/>
<path d="M139.30 143.07H143.30M139.30 149.45H143.30"/>
<path d="M143.78 143.91H147.78M143.78 150.31H147.78"/>
<path d="M148.26 140.77H152.26M148.26 146.91H152.26"/>
<path d="M152.75 138.57H156.75M152.75 145.48H156.75"/>
<path d="M157.23 143.40H161.23M157.23 149.73H161.23"/>
<path d="M161.71 134.49H165.71M161.71 147.13H165.71"/>
<path d="M166.19 137.82H170.19M166.19 147.43H170.19"/>
<path d="M170.68 138.77H174.68M170.68 150.85H174.68"/>
<path d="M175.16 138.60H179.16M175.16 151.02H179.16"/>
<path d="M179.64 135.23H183.64M179.64 148.09H183.64"/>
<path d="M184.13 141.26H188.13M184.13 151.27H188.13"/>
<path d="M188.61 141.26H192.61M188.61 151.27H192.61"/>
<path d="M193.09 136.15H197.09M193.09 149.11H197.09"/>
<path d="M197.57 140.52H201.57M197.57 150.07H201.57"/>
<path d="M202.06 137.18H206.06M202.06 150.50H206.06"/>
<path d="M206.54 137.45H210.54M206.54 150.23H210.54"/>
<path d="M211.02 137.09H215.02M211.02 146.23H215.02"/>
<path d="M215.51 138.59H219.51M215.51 148.24H219.51"/>
<path d="M219.99 135.66H223.99M219.99 147.66H223.99"/>
<path d="M224.47 136.79H228.47M224.47 146.53H228.47"/>
<path d="M228.96 140.82H232.96M228.96 149.77H232.96"/>
<path d="M233.44 131.76H237.44M233.44 144.28H237.44"/>
<path d="M237.92 141.36H241.92M237.92 151.89H241.92"/>
<path d="M242.41 135.02H246.41M242.41 147.33H246.41"/>
<path d="M246.89 132.02H250.89M246.89 141.12H250.89"/>
<path d="M251.37 138.62H255.37M251.37 149.06H255.37"/>
<path d="M255.85 140.36H259.85M255.85 152.17H259.85"/>
<path d="M260.34 138.71H264.34M260.34 147.28H264.34"/>
<path d="M264.82 141.53H268.82M264.82 150.99H268.82"/>
<path d="M269.30 137.94H273.30M269.30 149.74H273.30"/>
<path d="M273.79 140.66H277.79M273.79 153.56H277.79"/>
<path d="M278.27 134.58H282.27M278.27 147.76H282.27"/>
<path d="M282.75 139.92H286.75M282.75 148.97H286.75"/>
<path d="M287.24 142.01H291.24M287.24 152.94H291.24"/>
<path d="M291.72 140.55H295.72M291.72 152.71H295.72"/>
<path d="M296.20 135.35H300.20M296.20 146.27H300.20"/>
<path d="M300.68 137.09H304.68M300.68 148.90H304.68"/>
<path d="M305.17 138.29H309.17M305.17 147.69H309.17"/>
<path d="M309.65 137.25H313.65M309.65 146.07H313.65"/>
<path d="M314.13 140.55H318.13M314.13 149.55H318.13"/>
<path d="M318.62 141.57H322.62M318.62 150.23H322.62"/>
<path d="M323.10 140.81H327.10M323.10 151.96H327.10"/>
<path d="M327.58 137.93H331.58M327.58 148.91H331.58"/>
<path d="M332.06 133.19H336.06M332.06 144.43H336.06"/>
<path d="M336.55 140.45H340.55M336.55 149.65H340.55"/>
<path d="M341.03 140.36H345.03M341.03 149.74H345.03"/>
<path d="M345.51 135.59H349.51M345.51 145.06H349.51"/>
<path d="M350.00 134.53H354.00M350.00 147.09H354.00"/>
<path d="M354.48 57.79H358.48M354.48 84.45H358.48"/>
<path d="M358.96 61.42H362.96M358.96 95.36H362.96"/>
<path d="M363.45 60.21H367.45M363.45 100.21H367.45"/>
<path d="M367.93 60.54H371.93M367.93 93.82H371.93"/>
<path d="M372.41 58.09H376.41M372.41 102.33H376.41"/>
<path d="M376.89 61.33H380.89M376.89 100.30H380.89"/>
<path d="M381.38 62.00H385.38M381.38 99.63H385.38"/>
<path d="M385.86 56.64H389.86M385.86 98.93H389.86"/>
<path d="M390.34 56.82H394.34M390.34 96.33H394.34"/>
<path d="M394.83 57.84H398.83M394.83 96.52H398.83"/>
<path d="M399.31 57.28H403.31M399.31 98.29H403.31"/>
<path d="M403.79 62.13H407.79M403.79 95.86H407.79"/>
<path d="M408.28 62.41H412.28M408.28 101.65H412.28"/>
<path d="M412.76 59.50H416.76M412.76 97.28H416.76"/>
<path d="M417.24 58.16H421.24M417.24 102.26H421.24"/>
<path d="M421.72 60.78H425.72M421.72 104.49H425.72"/>
<path d="M426.21 66.40H430.21M426.21 102.50H430.21"/>
<path d="M430.69 62.19H434.69M430.69 100.66H434.69"/>
<path d="M435.17 70.26H439.17M435.17 104.70H439.17"/>
<path d="M439.66 66.66H443.66M439.66 104.67H443.66"/>
<path d="M444.14 70.50H448.14M444.14 112.95H448.14"/>
<path d="M448.62 63.94H452.62M448.62 107.39H452.62"/>
<path d="M453.11 70.04H457.11M453.11 108.56H457.11"/>
<path d="M457.59 69.15H461.59M457.59 105.81H461.59"/>
<path d="M462.07 72.92H466.07M462.07 108.11H466.07"/>
<path d="M466.55 69.22H470.55M466.55 109.38H470.55"/>
<path d="M471.04 70.46H475.04M471.04 114.20H475.04"/>
<path d="M475.52 73.28H479.52M475.52 107.75H479.52"/>
<path d="M480.00 66.47H484.00M480.00 108.50H484.00"/>
<path d="M484.49 72.68H488.49M484.49 105.92H488.49"/>
<path d="M488.97 68.66H492.97M488.97 103.88H492.97"/>
<path d="M493.45 71.49H497.45M493.45 107.11H497.45"/>
<path d="M497.94 70.64H501.94M497.94 111.60H501.94"/>
<path d="M502.42 73.97H506.42M502.42 110.69H506.42"/>
<path d="M506.90 71.96H510.90M506.90 109.06H510.90"/>
<path d="M511.38 69.21H515.38M511.38 109.39H515.38"/>
<path d="M515.87 74.02H519.87M515.87 108.21H519.87"/>
<path d="M520.35 69.78H524.35M520.35 111.25H524.35"/>
</g>
<g fill="#8e8e8e" stroke="#000" stroke-width="1.2">
<path d="M91.98 145.42L95.28 151.12H88.68Z"/>
<path d="M96.47 149.21L99.77 154.91H93.17Z"/>
<path d="M100.95 144.65L104.25 150.35H97.65Z"/>
<path d="M105.43 146.39L108.73 152.09H102.13Z"/>
<path d="M109.91 146.46L113.21 152.16H106.61Z"/>
<path d="M114.40 146.35L117.70 152.05H111.10Z"/>
<path d="M118.88 145.06L122.18 150.76H115.58Z"/>
<path d="M123.36 146.15L126.66 151.85H120.06Z"/>
<path d="M127.85 144.32L131.15 150.02H124.55Z"/>
<path d="M132.33 144.50L135.63 150.20H129.03Z"/>
<path d="M136.81 143.05L140.11 148.75H133.51Z"/>
<path d="M141.30 143.48L144.60 149.18H138.00Z"/>
<path d="M145.78 146.08L149.08 151.78H142.48Z"/>
<path d="M150.26 147.81L153.56 153.51H146.96Z"/>
<path d="M154.75 147.81L158.05 153.51H151.44Z"/>
<path d="M159.23 144.28L162.53 149.98H155.93Z"/>
<path d="M163.71 144.61L167.01 150.31H160.41Z"/>
<path d="M168.19 146.38L171.49 152.08H164.89Z"/>
<path d="M172.68 144.13L175.98 149.83H169.38Z"/>
<path d="M177.16 145.46L180.46 151.16H173.86Z"/>
<path d="M181.64 144.95L184.94 150.65H178.34Z"/>
<path d="M186.13 148.42L189.43 154.12H182.83Z"/>
<path d="M190.61 145.71L193.91 151.41H187.31Z"/>
<path d="M195.09 144.69L198.39 150.39H191.79Z"/>
<path d="M199.57 143.95L202.88 149.65H196.27Z"/>
<path d="M204.06 143.04L207.36 148.74H200.76Z"/>
<path d="M208.54 138.72L211.84 144.42H205.24Z"/>
<path d="M213.02 146.05L216.32 151.75H209.72Z"/>
<path d="M217.51 149.02L220.81 154.72H214.21Z"/>
<path d="M221.99 143.82L225.29 149.52H218.69Z"/>
<path d="M226.47 143.42L229.77 149.12H223.17Z"/>
<path d="M230.96 148.42L234.26 154.12H227.66Z"/>
<path d="M235.44 144.49L238.74 150.19H232.14Z"/>
<path d="M239.92 143.55L243.22 149.25H236.62Z"/>
<path d="M244.41 144.88L247.71 150.58H241.10Z"/>
<path d="M248.89 146.38L252.19 152.08H245.59Z"/>
<path d="M253.37 148.42L256.67 154.12H250.07Z"/>
<path d="M257.85 143.61L261.15 149.31H254.55Z"/>
<path d="M262.34 145.20L265.64 150.90H259.04Z"/>
<path d="M266.82 146.52L270.12 152.22H263.52Z"/>
<path d="M271.30 138.72L274.60 144.42H268.00Z"/>
<path d="M275.79 146.39L279.09 152.09H272.49Z"/>
<path d="M280.27 146.13L283.57 151.83H276.97Z"/>
<path d="M284.75 138.72L288.05 144.42H281.45Z"/>
<path d="M289.24 146.31L292.54 152.01H285.94Z"/>
<path d="M293.72 139.33L297.02 145.03H290.42Z"/>
<path d="M298.20 135.69L301.50 141.39H294.90Z"/>
<path d="M302.68 145.59L305.98 151.29H299.38Z"/>
<path d="M307.17 136.90L310.47 142.60H303.87Z"/>
<path d="M311.65 143.12L314.95 148.82H308.35Z"/>
<path d="M316.13 145.96L319.43 151.66H312.83Z"/>
<path d="M320.62 139.33L323.92 145.03H317.32Z"/>
<path d="M325.10 144.46L328.40 150.16H321.80Z"/>
<path d="M329.58 136.90L332.88 142.60H326.28Z"/>
<path d="M334.06 133.27L337.36 138.97H330.76Z"/>
<path d="M338.55 137.51L341.85 143.21H335.25Z"/>
<path d="M343.03 138.12L346.33 143.82H339.73Z"/>
<path d="M347.51 135.09L350.81 140.79H344.21Z"/>
<path d="M352.00 143.33L355.30 149.03H348.70Z"/>
<path d="M356.48 69.03L359.78 74.73H353.18Z"/>
<path d="M360.96 75.09L364.26 80.79H357.66Z"/>
<path d="M365.45 79.94L368.75 85.64H362.15Z"/>
<path d="M369.93 82.97L373.23 88.67H366.63Z"/>
<path d="M374.41 74.49L377.71 80.19H371.11Z"/>
<path d="M378.89 76.91L382.19 82.61H375.59Z"/>
<path d="M383.38 73.88L386.68 79.58H380.08Z"/>
<path d="M387.86 69.64L391.16 75.34H384.56Z"/>
<path d="M392.34 72.67L395.64 78.37H389.04Z"/>
<path d="M396.83 71.46L400.13 77.16H393.53Z"/>
<path d="M401.31 74.49L404.61 80.19H398.01Z"/>
<path d="M405.79 73.27L409.09 78.97H402.49Z"/>
<path d="M410.28 75.09L413.58 80.79H406.98Z"/>
<path d="M414.76 72.67L418.06 78.37H411.46Z"/>
<path d="M419.24 74.49L422.54 80.19H415.94Z"/>
<path d="M423.72 72.67L427.02 78.37H420.42Z"/>
<path d="M428.21 71.46L431.51 77.16H424.91Z"/>
<path d="M432.69 75.09L435.99 80.79H429.39Z"/>
<path d="M437.17 78.12L440.47 83.82H433.87Z"/>
<path d="M441.66 75.70L444.96 81.40H438.36Z"/>
<path d="M446.14 77.52L449.44 83.22H442.84Z"/>
<path d="M450.62 79.33L453.92 85.03H447.32Z"/>
<path d="M455.11 76.30L458.41 82.00H451.81Z"/>
<path d="M459.59 74.49L462.89 80.19H456.29Z"/>
<path d="M464.07 72.67L467.37 78.37H460.77Z"/>
<path d="M468.55 75.09L471.85 80.79H465.25Z"/>
<path d="M473.04 73.88L476.34 79.58H469.74Z"/>
<path d="M477.52 73.27L480.82 78.97H474.22Z"/>
<path d="M482.00 76.91L485.30 82.61H478.70Z"/>
<path d="M486.49 75.09L489.79 80.79H483.19Z"/>
<path d="M490.97 78.73L494.27 84.43H487.67Z"/>
<path d="M495.45 79.33L498.75 85.03H492.15Z"/>
<path d="M499.94 79.94L503.24 85.64H496.64Z"/>
<path d="M504.42 82.36L507.72 88.06H501.12Z"/>
<path d="M508.90 82.97L512.20 88.67H505.60Z"/>
<path d="M513.38 83.58L516.68 89.28H510.08Z"/>
<path d="M517.87 84.79L521.17 90.49H514.57Z"/>
<path d="M522.35 86.00L525.65 91.70H519.05Z"/>
</g>
<g fill="#000" stroke="none">
<circle cx="91.98" cy="149.35" r="3.05"/>
<circle cx="96.47" cy="149.64" r="3.05"/>
<circle cx="100.95" cy="148.57" r="3.05"/>
<circle cx="105.43" cy="148.05" r="3.05"/>
<circle cx="109.91" cy="148.32" r="3.05"/>
<circle cx="114.40" cy="149.57" r="3.05"/>
<circle cx="118.88" cy="146.89" r="3.05"/>
<circle cx="123.36" cy="149.09" r="3.05"/>
<circle cx="127.85" cy="146.45" r="3.05"/>
<circle cx="132.33" cy="148.46" r="3.05"/>
<circle cx="136.81" cy="149.73" r="3.05"/>
<circle cx="141.30" cy="148.85" r="3.05"/>
<circle cx="145.78" cy="149.47" r="3.05"/>
<circle cx="150.26" cy="150.51" r="3.05"/>
<circle cx="154.75" cy="147.79" r="3.05"/>
<circle cx="159.23" cy="148.55" r="3.05"/>
<circle cx="163.71" cy="149.67" r="3.05"/>
<circle cx="168.19" cy="149.15" r="3.05"/>
<circle cx="172.68" cy="150.51" r="3.05"/>
<circle cx="177.16" cy="147.77" r="3.05"/>
<circle cx="181.64" cy="148.81" r="3.05"/>
<circle cx="186.13" cy="147.36" r="3.05"/>
<circle cx="190.61" cy="147.81" r="3.05"/>
<circle cx="195.09" cy="146.72" r="3.05"/>
<circle cx="199.57" cy="148.85" r="3.05"/>
<circle cx="204.06" cy="149.47" r="3.05"/>
<circle cx="208.54" cy="147.15" r="3.05"/>
<circle cx="213.02" cy="148.12" r="3.05"/>
<circle cx="217.51" cy="147.47" r="3.05"/>
<circle cx="221.99" cy="147.82" r="3.05"/>
<circle cx="226.47" cy="148.76" r="3.05"/>
<circle cx="230.96" cy="147.74" r="3.05"/>
<circle cx="235.44" cy="145.05" r="3.05"/>
<circle cx="239.92" cy="146.47" r="3.05"/>
<circle cx="244.41" cy="147.49" r="3.05"/>
<circle cx="248.89" cy="146.26" r="3.05"/>
<circle cx="253.37" cy="146.29" r="3.05"/>
<circle cx="257.85" cy="148.87" r="3.05"/>
<circle cx="262.34" cy="147.47" r="3.05"/>
<circle cx="266.82" cy="148.22" r="3.05"/>
<circle cx="271.30" cy="149.47" r="3.05"/>
<circle cx="275.79" cy="147.11" r="3.05"/>
<circle cx="280.27" cy="149.00" r="3.05"/>
<circle cx="284.75" cy="146.73" r="3.05"/>
<circle cx="289.24" cy="148.27" r="3.05"/>
<circle cx="293.72" cy="146.69" r="3.05"/>
<circle cx="298.20" cy="146.76" r="3.05"/>
<circle cx="302.68" cy="148.39" r="3.05"/>
<circle cx="307.17" cy="146.69" r="3.05"/>
<circle cx="311.65" cy="149.35" r="3.05"/>
<circle cx="316.13" cy="149.06" r="3.05"/>
<circle cx="320.62" cy="148.14" r="3.05"/>
<circle cx="325.10" cy="148.94" r="3.05"/>
<circle cx="329.58" cy="148.38" r="3.05"/>
<circle cx="334.06" cy="147.84" r="3.05"/>
<circle cx="338.55" cy="147.39" r="3.05"/>
<circle cx="343.03" cy="147.65" r="3.05"/>
<circle cx="347.51" cy="149.70" r="3.05"/>
<circle cx="352.00" cy="146.87" r="3.05"/>
<circle cx="356.48" cy="130.51" r="3.05"/>
<circle cx="360.96" cy="135.96" r="3.05"/>
<circle cx="365.45" cy="126.87" r="3.05"/>
<circle cx="369.93" cy="130.51" r="3.05"/>
<circle cx="374.41" cy="125.05" r="3.05"/>
<circle cx="378.89" cy="129.30" r="3.05"/>
<circle cx="383.38" cy="131.11" r="3.05"/>
<circle cx="387.86" cy="122.02" r="3.05"/>
<circle cx="392.34" cy="131.72" r="3.05"/>
<circle cx="396.83" cy="129.30" r="3.05"/>
<circle cx="401.31" cy="130.51" r="3.05"/>
<circle cx="405.79" cy="128.69" r="3.05"/>
<circle cx="410.28" cy="135.96" r="3.05"/>
<circle cx="414.76" cy="128.08" r="3.05"/>
<circle cx="419.24" cy="137.17" r="3.05"/>
<circle cx="423.72" cy="132.93" r="3.05"/>
<circle cx="428.21" cy="135.96" r="3.05"/>
<circle cx="432.69" cy="129.90" r="3.05"/>
<circle cx="437.17" cy="130.51" r="3.05"/>
<circle cx="441.66" cy="130.51" r="3.05"/>
<circle cx="446.14" cy="137.17" r="3.05"/>
<circle cx="450.62" cy="134.14" r="3.05"/>
<circle cx="455.11" cy="131.11" r="3.05"/>
<circle cx="459.59" cy="129.30" r="3.05"/>
<circle cx="464.07" cy="129.30" r="3.05"/>
<circle cx="468.55" cy="129.30" r="3.05"/>
<circle cx="473.04" cy="129.30" r="3.05"/>
<circle cx="477.52" cy="131.72" r="3.05"/>
<circle cx="482.00" cy="130.51" r="3.05"/>
<circle cx="486.49" cy="133.54" r="3.05"/>
<circle cx="490.97" cy="131.11" r="3.05"/>
<circle cx="495.45" cy="134.14" r="3.05"/>
<circle cx="499.94" cy="131.11" r="3.05"/>
<circle cx="504.42" cy="137.78" r="3.05"/>
<circle cx="508.90" cy="126.27" r="3.05"/>
<circle cx="513.38" cy="131.11" r="3.05"/>
<circle cx="517.87" cy="131.72" r="3.05"/>
<circle cx="522.35" cy="131.11" r="3.05"/>
</g>
<g fill="#fff" stroke="#000" stroke-width="1.3">
<circle cx="91.98" cy="141.17" r="2.55"/>
<circle cx="96.47" cy="138.51" r="2.55"/>
<circle cx="100.95" cy="145.05" r="2.55"/>
<circle cx="105.43" cy="145.66" r="2.55"/>
<circle cx="109.91" cy="143.48" r="2.55"/>
<circle cx="114.40" cy="145.05" r="2.55"/>
<circle cx="118.88" cy="145.05" r="2.55"/>
<circle cx="123.36" cy="145.66" r="2.55"/>
<circle cx="127.85" cy="141.66" r="2.55"/>
<circle cx="132.33" cy="145.05" r="2.55"/>
<circle cx="136.81" cy="139.78" r="2.55"/>
<circle cx="141.30" cy="142.08" r="2.55"/>
<circle cx="145.78" cy="146.26" r="2.55"/>
<circle cx="150.26" cy="141.17" r="2.55"/>
<circle cx="154.75" cy="147.48" r="2.55"/>
<circle cx="159.23" cy="140.81" r="2.55"/>
<circle cx="163.71" cy="145.05" r="2.55"/>
<circle cx="168.19" cy="146.26" r="2.55"/>
<circle cx="172.68" cy="148.69" r="2.55"/>
<circle cx="177.16" cy="147.48" r="2.55"/>
<circle cx="181.64" cy="146.87" r="2.55"/>
<circle cx="186.13" cy="148.08" r="2.55"/>
<circle cx="190.61" cy="148.08" r="2.55"/>
<circle cx="195.09" cy="146.99" r="2.55"/>
<circle cx="199.57" cy="149.90" r="2.55"/>
<circle cx="204.06" cy="147.48" r="2.55"/>
<circle cx="208.54" cy="147.48" r="2.55"/>
<circle cx="213.02" cy="153.54" r="2.55"/>
<circle cx="217.51" cy="148.69" r="2.55"/>
<circle cx="221.99" cy="147.11" r="2.55"/>
<circle cx="226.47" cy="150.51" r="2.55"/>
<circle cx="230.96" cy="148.69" r="2.55"/>
<circle cx="235.44" cy="148.93" r="2.55"/>
<circle cx="239.92" cy="152.51" r="2.55"/>
<circle cx="244.41" cy="150.69" r="2.55"/>
<circle cx="248.89" cy="148.93" r="2.55"/>
<circle cx="253.37" cy="148.08" r="2.55"/>
<circle cx="257.85" cy="148.69" r="2.55"/>
<circle cx="262.34" cy="148.08" r="2.55"/>
<circle cx="266.82" cy="148.69" r="2.55"/>
<circle cx="271.30" cy="150.69" r="2.55"/>
<circle cx="275.79" cy="148.69" r="2.55"/>
<circle cx="280.27" cy="150.69" r="2.55"/>
<circle cx="284.75" cy="148.69" r="2.55"/>
<circle cx="289.24" cy="148.69" r="2.55"/>
<circle cx="293.72" cy="148.69" r="2.55"/>
<circle cx="298.20" cy="147.48" r="2.55"/>
<circle cx="302.68" cy="148.93" r="2.55"/>
<circle cx="307.17" cy="148.93" r="2.55"/>
<circle cx="311.65" cy="148.08" r="2.55"/>
<circle cx="316.13" cy="153.17" r="2.55"/>
<circle cx="320.62" cy="152.32" r="2.55"/>
<circle cx="325.10" cy="149.29" r="2.55"/>
<circle cx="329.58" cy="149.29" r="2.55"/>
<circle cx="334.06" cy="148.08" r="2.55"/>
<circle cx="338.55" cy="150.51" r="2.55"/>
<circle cx="343.03" cy="150.51" r="2.55"/>
<circle cx="347.51" cy="148.99" r="2.55"/>
<circle cx="352.00" cy="152.63" r="2.55"/>
<circle cx="356.48" cy="65.06" r="2.55"/>
<circle cx="360.96" cy="72.94" r="2.55"/>
<circle cx="365.45" cy="84.45" r="2.55"/>
<circle cx="369.93" cy="85.06" r="2.55"/>
<circle cx="374.41" cy="85.06" r="2.55"/>
<circle cx="378.89" cy="83.24" r="2.55"/>
<circle cx="383.38" cy="86.27" r="2.55"/>
<circle cx="387.86" cy="83.85" r="2.55"/>
<circle cx="392.34" cy="85.06" r="2.55"/>
<circle cx="396.83" cy="86.27" r="2.55"/>
<circle cx="401.31" cy="82.63" r="2.55"/>
<circle cx="405.79" cy="84.45" r="2.55"/>
<circle cx="410.28" cy="86.27" r="2.55"/>
<circle cx="414.76" cy="86.88" r="2.55"/>
<circle cx="419.24" cy="86.27" r="2.55"/>
<circle cx="423.72" cy="83.24" r="2.55"/>
<circle cx="428.21" cy="80.82" r="2.55"/>
<circle cx="432.69" cy="77.18" r="2.55"/>
<circle cx="437.17" cy="80.21" r="2.55"/>
<circle cx="441.66" cy="80.82" r="2.55"/>
<circle cx="446.14" cy="77.79" r="2.55"/>
<circle cx="450.62" cy="84.45" r="2.55"/>
<circle cx="455.11" cy="85.06" r="2.55"/>
<circle cx="459.59" cy="80.21" r="2.55"/>
<circle cx="464.07" cy="80.82" r="2.55"/>
<circle cx="468.55" cy="90.51" r="2.55"/>
<circle cx="473.04" cy="83.85" r="2.55"/>
<circle cx="477.52" cy="83.24" r="2.55"/>
<circle cx="482.00" cy="85.66" r="2.55"/>
<circle cx="486.49" cy="89.30" r="2.55"/>
<circle cx="490.97" cy="91.72" r="2.55"/>
<circle cx="495.45" cy="93.12" r="2.55"/>
<circle cx="499.94" cy="94.15" r="2.55"/>
<circle cx="504.42" cy="98.63" r="2.55"/>
<circle cx="508.90" cy="103.36" r="2.55"/>
<circle cx="513.38" cy="109.00" r="2.55"/>
<circle cx="517.87" cy="106.27" r="2.55"/>
<circle cx="522.35" cy="109.42" r="2.55"/>
</g>
<g fill="#bdbdbd" stroke="#747474" stroke-width="1">
<rect x="89.38" y="144.88" width="5.2" height="5.2"/>
<rect x="93.87" y="139.42" width="5.2" height="5.2"/>
<rect x="98.35" y="140.03" width="5.2" height="5.2"/>
<rect x="102.83" y="141.24" width="5.2" height="5.2"/>
<rect x="107.31" y="146.09" width="5.2" height="5.2"/>
<rect x="111.80" y="140.88" width="5.2" height="5.2"/>
<rect x="116.28" y="139.42" width="5.2" height="5.2"/>
<rect x="120.76" y="142.21" width="5.2" height="5.2"/>
<rect x="125.25" y="142.69" width="5.2" height="5.2"/>
<rect x="129.73" y="143.66" width="5.2" height="5.2"/>
<rect x="134.21" y="140.03" width="5.2" height="5.2"/>
<rect x="138.70" y="143.66" width="5.2" height="5.2"/>
<rect x="143.18" y="144.51" width="5.2" height="5.2"/>
<rect x="147.66" y="141.24" width="5.2" height="5.2"/>
<rect x="152.15" y="139.42" width="5.2" height="5.2"/>
<rect x="156.63" y="143.97" width="5.2" height="5.2"/>
<rect x="161.11" y="138.21" width="5.2" height="5.2"/>
<rect x="165.59" y="140.03" width="5.2" height="5.2"/>
<rect x="170.08" y="142.21" width="5.2" height="5.2"/>
<rect x="174.56" y="142.21" width="5.2" height="5.2"/>
<rect x="179.04" y="139.06" width="5.2" height="5.2"/>
<rect x="183.53" y="143.66" width="5.2" height="5.2"/>
<rect x="188.01" y="143.66" width="5.2" height="5.2"/>
<rect x="192.49" y="140.03" width="5.2" height="5.2"/>
<rect x="196.97" y="142.69" width="5.2" height="5.2"/>
<rect x="201.46" y="141.24" width="5.2" height="5.2"/>
<rect x="205.94" y="141.24" width="5.2" height="5.2"/>
<rect x="210.42" y="139.06" width="5.2" height="5.2"/>
<rect x="214.91" y="140.82" width="5.2" height="5.2"/>
<rect x="219.39" y="139.06" width="5.2" height="5.2"/>
<rect x="223.87" y="139.06" width="5.2" height="5.2"/>
<rect x="228.36" y="142.69" width="5.2" height="5.2"/>
<rect x="232.84" y="135.42" width="5.2" height="5.2"/>
<rect x="237.32" y="144.03" width="5.2" height="5.2"/>
<rect x="241.81" y="138.57" width="5.2" height="5.2"/>
<rect x="246.29" y="133.97" width="5.2" height="5.2"/>
<rect x="250.77" y="141.24" width="5.2" height="5.2"/>
<rect x="255.25" y="143.66" width="5.2" height="5.2"/>
<rect x="259.74" y="140.39" width="5.2" height="5.2"/>
<rect x="264.22" y="143.66" width="5.2" height="5.2"/>
<rect x="268.70" y="141.24" width="5.2" height="5.2"/>
<rect x="273.19" y="144.51" width="5.2" height="5.2"/>
<rect x="277.67" y="138.57" width="5.2" height="5.2"/>
<rect x="282.15" y="141.85" width="5.2" height="5.2"/>
<rect x="286.63" y="144.88" width="5.2" height="5.2"/>
<rect x="291.12" y="144.03" width="5.2" height="5.2"/>
<rect x="295.60" y="138.21" width="5.2" height="5.2"/>
<rect x="300.08" y="140.39" width="5.2" height="5.2"/>
<rect x="304.57" y="140.39" width="5.2" height="5.2"/>
<rect x="309.05" y="139.06" width="5.2" height="5.2"/>
<rect x="313.53" y="142.45" width="5.2" height="5.2"/>
<rect x="318.02" y="143.30" width="5.2" height="5.2"/>
<rect x="322.50" y="143.79" width="5.2" height="5.2"/>
<rect x="326.98" y="140.82" width="5.2" height="5.2"/>
<rect x="331.46" y="136.21" width="5.2" height="5.2"/>
<rect x="335.95" y="142.45" width="5.2" height="5.2"/>
<rect x="340.43" y="142.45" width="5.2" height="5.2"/>
<rect x="344.91" y="137.73" width="5.2" height="5.2"/>
<rect x="349.40" y="138.21" width="5.2" height="5.2"/>
<rect x="353.88" y="68.52" width="5.2" height="5.2"/>
<rect x="358.36" y="75.79" width="5.2" height="5.2"/>
<rect x="362.85" y="77.61" width="5.2" height="5.2"/>
<rect x="367.33" y="74.58" width="5.2" height="5.2"/>
<rect x="371.81" y="77.61" width="5.2" height="5.2"/>
<rect x="376.29" y="78.22" width="5.2" height="5.2"/>
<rect x="380.78" y="78.22" width="5.2" height="5.2"/>
<rect x="385.26" y="75.19" width="5.2" height="5.2"/>
<rect x="389.74" y="73.97" width="5.2" height="5.2"/>
<rect x="394.23" y="74.58" width="5.2" height="5.2"/>
<rect x="398.71" y="75.19" width="5.2" height="5.2"/>
<rect x="403.19" y="76.40" width="5.2" height="5.2"/>
<rect x="407.68" y="79.43" width="5.2" height="5.2"/>
<rect x="412.16" y="75.79" width="5.2" height="5.2"/>
<rect x="416.64" y="77.61" width="5.2" height="5.2"/>
<rect x="421.12" y="80.03" width="5.2" height="5.2"/>
<rect x="425.61" y="81.85" width="5.2" height="5.2"/>
<rect x="430.09" y="78.82" width="5.2" height="5.2"/>
<rect x="434.57" y="84.88" width="5.2" height="5.2"/>
<rect x="439.06" y="83.06" width="5.2" height="5.2"/>
<rect x="443.54" y="89.12" width="5.2" height="5.2"/>
<rect x="448.02" y="83.06" width="5.2" height="5.2"/>
<rect x="452.51" y="86.70" width="5.2" height="5.2"/>
<rect x="456.99" y="84.88" width="5.2" height="5.2"/>
<rect x="461.47" y="87.91" width="5.2" height="5.2"/>
<rect x="465.95" y="86.70" width="5.2" height="5.2"/>
<rect x="470.44" y="89.73" width="5.2" height="5.2"/>
<rect x="474.92" y="87.91" width="5.2" height="5.2"/>
<rect x="479.40" y="84.88" width="5.2" height="5.2"/>
<rect x="483.89" y="86.70" width="5.2" height="5.2"/>
<rect x="488.37" y="83.67" width="5.2" height="5.2"/>
<rect x="492.85" y="86.70" width="5.2" height="5.2"/>
<rect x="497.34" y="88.52" width="5.2" height="5.2"/>
<rect x="501.82" y="89.73" width="5.2" height="5.2"/>
<rect x="506.30" y="87.91" width="5.2" height="5.2"/>
<rect x="510.78" y="86.70" width="5.2" height="5.2"/>
<rect x="515.27" y="88.52" width="5.2" height="5.2"/>
<rect x="519.75" y="87.91" width="5.2" height="5.2"/>
</g>
<g>
<path d="M143.3 51.2L146.6 56.6H140Z" fill="#a0a0a0" stroke="#000" stroke-width="1.1"/>
<circle cx="189.5" cy="54" r="3.3" fill="#000"/>
<circle cx="223.9" cy="54.1" r="2.7" fill="#fff" stroke="#000" stroke-width="1.2"/>
<rect x="280.2" y="51.3" width="5.9" height="5.9" fill="#c4c4c4" stroke="#808080" stroke-width="1"/>
</g>
<g stroke="#747474" stroke-width="1.1" fill="none">
<path d="M89.35 265.09V364M85.05 364H259.80"/>
<path d="M85.05 331.03H93.65"/>
<path d="M85.05 298.06H93.65"/>
<path d="M85.05 265.09H93.65"/>
</g>
<rect x="104.35" y="290.48" width="12.7" height="73.52" fill="#fff" stroke="#000" stroke-width="1.1"/>
<path d="M110.70 280.92V300.04M108.90 280.92H112.50M108.90 300.04H112.50" stroke="#808080" stroke-width="0.9" fill="none"/>
<rect x="147.15" y="321.30" width="12.7" height="42.70" fill="#000" stroke="#000" stroke-width="1.1"/>
<path d="M153.50 319.00V323.61M151.70 319.00H155.30M151.70 323.61H155.30" stroke="#808080" stroke-width="0.9" fill="none"/>
<rect x="189.65" y="295.42" width="12.7" height="68.58" fill="url(#pv)" stroke="#000" stroke-width="1.1"/>
<path d="M196.00 286.19V304.65M194.20 286.19H197.80M194.20 304.65H197.80" stroke="#808080" stroke-width="0.9" fill="none"/>
<rect x="232.00" y="295.42" width="12.7" height="68.58" fill="url(#ph)" stroke="#000" stroke-width="1.1"/>
<path d="M238.35 285.20V305.64M236.55 285.20H240.15M236.55 305.64H240.15" stroke="#808080" stroke-width="0.9" fill="none"/>
<text x="150.38" y="317.62" font-family="DejaVu Sans, sans-serif" font-weight="bold" font-size="12">*</text>
<text x="192.31" y="280.19" font-weight="bold" font-size="13.4">+</text>
<text x="234.91" y="280.19" font-weight="bold" font-size="13.4">+</text>
<g stroke="#888888" stroke-width="0.95" fill="none">
<path d="M362.60 265.09V364M358.30 364H533.30"/>
<path d="M358.30 331.03H366.90"/>
<path d="M358.30 298.06H366.90"/>
<path d="M358.30 265.09H366.90"/>
</g>
<rect x="377.45" y="299.71" width="12.7" height="64.29" fill="#fff" stroke="#000" stroke-width="1.1"/>
<path d="M383.80 292.78V306.63M382.00 292.78H385.60M382.00 306.63H385.60" stroke="#808080" stroke-width="0.9" fill="none"/>
<rect x="419.90" y="324.77" width="12.7" height="39.23" fill="#000" stroke="#000" stroke-width="1.1"/>
<path d="M426.25 320.48V329.05M424.45 320.48H428.05M424.45 329.05H428.05" stroke="#808080" stroke-width="0.9" fill="none"/>
<rect x="462.50" y="308.78" width="12.7" height="55.22" fill="url(#pv)" stroke="#000" stroke-width="1.1"/>
<path d="M468.85 305.31V312.24M467.05 305.31H470.65M467.05 312.24H470.65" stroke="#808080" stroke-width="0.9" fill="none"/>
<rect x="505.35" y="296.74" width="12.7" height="67.26" fill="url(#ph)" stroke="#000" stroke-width="1.1"/>
<path d="M511.70 289.65V303.83M509.90 289.65H513.50M509.90 303.83H513.50" stroke="#808080" stroke-width="0.9" fill="none"/>
<text x="422.98" y="319.42" font-family="DejaVu Sans, sans-serif" font-weight="bold" font-size="12">*</text>
<text x="464.51" y="298.99" font-weight="bold" font-size="13.4">+</text>
<text x="504.22" y="283.09" font-weight="bold" font-size="13.4" textLength="15.54" lengthAdjust="spacingAndGlyphs">++</text>
<g fill="#000">
<text x="10.62" y="22.08" font-weight="bold" font-size="17.6" textLength="21.57" lengthAdjust="spacingAndGlyphs">(a)</text>
<text x="55.91" y="32.90" font-weight="normal" font-size="12.3" stroke="#000" stroke-width="0.3" textLength="19.50" lengthAdjust="spacingAndGlyphs">300</text>
<text x="55.91" y="63.20" font-weight="normal" font-size="12.3" stroke="#000" stroke-width="0.3" textLength="19.50" lengthAdjust="spacingAndGlyphs">250</text>
<text x="55.91" y="93.50" font-weight="normal" font-size="12.3" stroke="#000" stroke-width="0.3" textLength="19.50" lengthAdjust="spacingAndGlyphs">200</text>
<text x="55.91" y="123.80" font-weight="normal" font-size="12.3" stroke="#000" stroke-width="0.3" textLength="19.50" lengthAdjust="spacingAndGlyphs">150</text>
<text x="55.91" y="154.10" font-weight="normal" font-size="12.3" stroke="#000" stroke-width="0.3" textLength="19.50" lengthAdjust="spacingAndGlyphs">100</text>
<text x="62.54" y="184.40" font-weight="normal" font-size="12.3" stroke="#000" stroke-width="0.3" textLength="13.00" lengthAdjust="spacingAndGlyphs">50</text>
<text x="68.96" y="214.70" font-weight="normal" font-size="12.3" stroke="#000" stroke-width="0.3" textLength="6.50" lengthAdjust="spacingAndGlyphs">0</text>
<text x="84.29" y="231.30" font-weight="normal" font-size="12.3" stroke="#000" stroke-width="0.3" textLength="6.50" lengthAdjust="spacingAndGlyphs">0</text>
<text x="170.64" y="231.30" font-weight="normal" font-size="12.3" stroke="#000" stroke-width="0.3" textLength="13.00" lengthAdjust="spacingAndGlyphs">20</text>
<text x="260.49" y="231.30" font-weight="normal" font-size="12.3" stroke="#000" stroke-width="0.3" textLength="13.00" lengthAdjust="spacingAndGlyphs">40</text>
<text x="349.96" y="231.30" font-weight="normal" font-size="12.3" stroke="#000" stroke-width="0.3" textLength="13.00" lengthAdjust="spacingAndGlyphs">60</text>
<text x="439.62" y="231.30" font-weight="normal" font-size="12.3" stroke="#000" stroke-width="0.3" textLength="13.00" lengthAdjust="spacingAndGlyphs">80</text>
<text x="525.77" y="231.30" font-weight="normal" font-size="12.3" stroke="#000" stroke-width="0.3" textLength="19.50" lengthAdjust="spacingAndGlyphs">100</text>
<text x="470.32" y="242.70" font-weight="bold" font-size="11.0" textLength="49.11" lengthAdjust="spacingAndGlyphs">Time, sec</text>
<text transform="translate(49.80,196.42) rotate(-90)" x="0" y="0" font-weight="bold" font-size="11.0" textLength="154.28" lengthAdjust="spacingAndGlyphs">EPSP initial slope (% of basal)</text>
<text x="149.94" y="57.50" font-weight="normal" font-size="11.6" stroke="#000" stroke-width="0.3" textLength="29.05" lengthAdjust="spacingAndGlyphs">Sham</text>
<text x="195.77" y="57.50" font-weight="normal" font-size="11.6" stroke="#000" stroke-width="0.3" textLength="17.59" lengthAdjust="spacingAndGlyphs">SNI</text>
<text x="230.46" y="57.50" font-weight="normal" font-size="11.6" stroke="#000" stroke-width="0.3" textLength="43.15" lengthAdjust="spacingAndGlyphs">SNI+Syn</text>
<text x="288.93" y="57.50" font-weight="normal" font-size="11.6" stroke="#000" stroke-width="0.3" textLength="19.60" lengthAdjust="spacingAndGlyphs">Syn</text>
<text x="3.33" y="259.28" font-weight="bold" font-size="17.6" textLength="22.34" lengthAdjust="spacingAndGlyphs">(b)</text>
<text x="58.01" y="269.29" font-weight="normal" font-size="12.3" stroke="#000" stroke-width="0.3" textLength="19.50" lengthAdjust="spacingAndGlyphs">300</text>
<text x="58.01" y="302.26" font-weight="normal" font-size="12.3" stroke="#000" stroke-width="0.3" textLength="19.50" lengthAdjust="spacingAndGlyphs">200</text>
<text x="58.01" y="335.23" font-weight="normal" font-size="12.3" stroke="#000" stroke-width="0.3" textLength="19.50" lengthAdjust="spacingAndGlyphs">100</text>
<text x="71.06" y="368.20" font-weight="normal" font-size="12.3" stroke="#000" stroke-width="0.3" textLength="6.50" lengthAdjust="spacingAndGlyphs">0</text>
<text x="95.63" y="384.20" font-weight="normal" font-size="11.6" stroke="#000" stroke-width="0.3" textLength="29.68" lengthAdjust="spacingAndGlyphs">Sham</text>
<text x="144.16" y="384.20" font-weight="normal" font-size="11.6" stroke="#000" stroke-width="0.3" textLength="18.03" lengthAdjust="spacingAndGlyphs">SNI</text>
<text x="174.47" y="384.20" font-weight="normal" font-size="11.6" stroke="#000" stroke-width="0.3" textLength="42.43" lengthAdjust="spacingAndGlyphs">SNI+Syn</text>
<text x="228.54" y="384.20" font-weight="normal" font-size="11.6" stroke="#000" stroke-width="0.3" textLength="19.28" lengthAdjust="spacingAndGlyphs">Syn</text>
<text transform="translate(36.70,361.52) rotate(-90)" x="0" y="0" font-weight="bold" font-size="11.0" textLength="94.62" lengthAdjust="spacingAndGlyphs">EPSP initial slope,</text>
<text transform="translate(52.20,344.56) rotate(-90)" x="0" y="0" font-weight="bold" font-size="11.0" textLength="63.07" lengthAdjust="spacingAndGlyphs">(% of basal)</text>
<text x="280.19" y="259.78" font-weight="bold" font-size="17.6" textLength="19.92" lengthAdjust="spacingAndGlyphs">(c)</text>
<text x="331.51" y="269.29" font-weight="normal" font-size="12.3" stroke="#000" stroke-width="0.3" textLength="19.50" lengthAdjust="spacingAndGlyphs">300</text>
<text x="331.51" y="302.26" font-weight="normal" font-size="12.3" stroke="#000" stroke-width="0.3" textLength="19.50" lengthAdjust="spacingAndGlyphs">200</text>
<text x="331.51" y="335.23" font-weight="normal" font-size="12.3" stroke="#000" stroke-width="0.3" textLength="19.50" lengthAdjust="spacingAndGlyphs">100</text>
<text x="344.56" y="368.20" font-weight="normal" font-size="12.3" stroke="#000" stroke-width="0.3" textLength="6.50" lengthAdjust="spacingAndGlyphs">0</text>
<text x="369.13" y="384.20" font-weight="normal" font-size="11.6" stroke="#000" stroke-width="0.3" textLength="29.68" lengthAdjust="spacingAndGlyphs">Sham</text>
<text x="417.66" y="384.20" font-weight="normal" font-size="11.6" stroke="#000" stroke-width="0.3" textLength="18.03" lengthAdjust="spacingAndGlyphs">SNI</text>
<text x="447.97" y="384.20" font-weight="normal" font-size="11.6" stroke="#000" stroke-width="0.3" textLength="42.43" lengthAdjust="spacingAndGlyphs">SNI+Syn</text>
<text x="502.04" y="384.20" font-weight="normal" font-size="11.6" stroke="#000" stroke-width="0.3" textLength="19.28" lengthAdjust="spacingAndGlyphs">Syn</text>
<text transform="translate(310.20,361.52) rotate(-90)" x="0" y="0" font-weight="bold" font-size="11.0" textLength="94.62" lengthAdjust="spacingAndGlyphs">EPSP initial slope,</text>
<text transform="translate(325.70,344.56) rotate(-90)" x="0" y="0" font-weight="bold" font-size="11.0" textLength="63.07" lengthAdjust="spacingAndGlyphs">(% of basal)</text>
</g>
</svg></body></html>
